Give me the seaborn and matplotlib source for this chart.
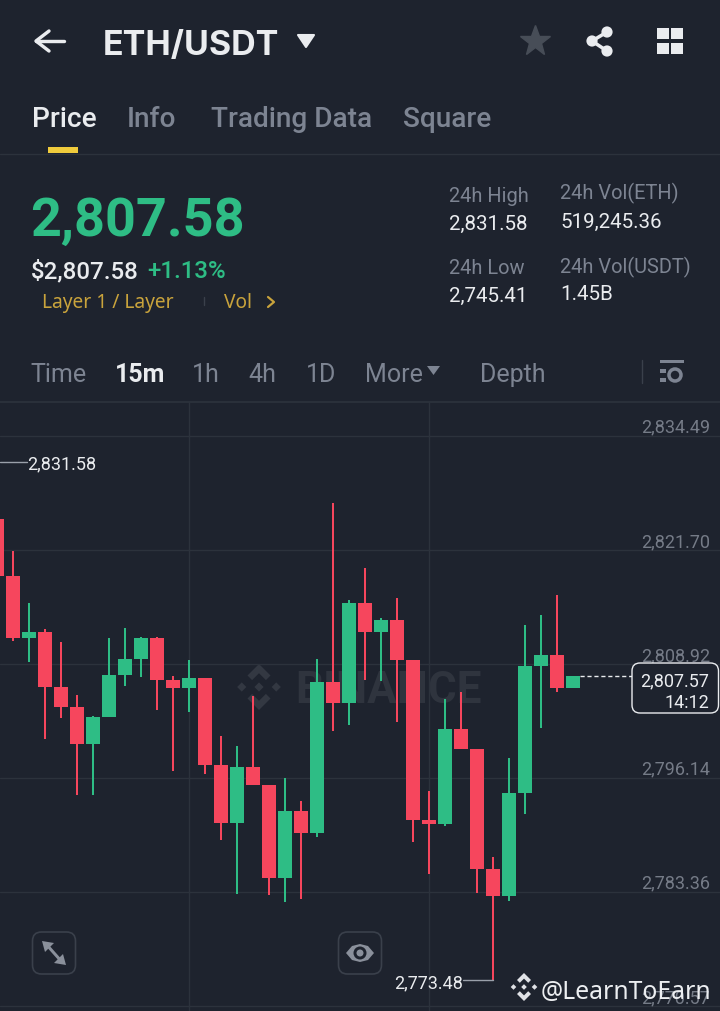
import matplotlib
matplotlib.use('Agg')
import matplotlib.pyplot as plt
from matplotlib.patches import Circle, FancyBboxPatch, Polygon, Rectangle
import numpy as np
import pandas as pd
import seaborn as sns

BG = '#1e232e'
GREEN = '#2ebd85'
RED = '#f6465d'
GRID = '#2c323c'
MUTED = '#7d8492'
WHITE = '#eaecef'
GOLD = '#c9a33c'

opens = [2825.16, 2818.77, 2811.82, 2812.53, 2806.33, 2804.03, 2799.94, 2802.93, 2807.64,
         2809.47, 2811.79, 2807.11, 2806.22, 2807.34, 2797.58, 2791.12, 2797.39, 2795.37,
         2784.86, 2792.37, 2789.93, 2806.89, 2804.50, 2815.75, 2812.53, 2813.84, 2809.32,
         2791.42, 2790.97, 2801.62, 2799.41, 2785.89, 2782.90, 2794.41, 2808.72, 2809.92,
         2806.18]
closes = [2818.77, 2811.82, 2812.53, 2806.33, 2804.03, 2799.94, 2802.93, 2807.64, 2809.47,
          2811.79, 2807.11, 2806.22, 2807.34, 2797.58, 2791.12, 2797.39, 2795.37, 2784.86,
          2792.37, 2789.93, 2806.89, 2804.50, 2815.75, 2812.53, 2813.84, 2809.32, 2791.42,
          2790.97, 2801.62, 2799.41, 2785.89, 2782.90, 2794.41, 2808.72, 2809.92, 2806.18,
          2807.57]
highs = [2825.16, 2821.61, 2815.75, 2812.83, 2811.41, 2805.43, 2803.11, 2811.86, 2812.94,
         2811.93, 2811.93, 2807.59, 2809.36, 2807.34, 2800.87, 2799.68, 2805.35, 2795.37,
         2796.13, 2793.51, 2809.47, 2826.96, 2816.08, 2819.64, 2814.06, 2816.27, 2809.32,
         2794.70, 2804.98, 2805.73, 2799.41, 2787.30, 2798.37, 2813.28, 2814.40, 2816.64,
         2807.57]
lows = [2818.77, 2811.52, 2809.16, 2800.50, 2802.85, 2794.22, 2794.22, 2802.93, 2806.47,
        2807.48, 2803.75, 2796.94, 2803.49, 2796.57, 2789.17, 2783.12, 2795.37, 2783.04,
        2782.19, 2782.56, 2789.51, 2801.43, 2802.07, 2807.15, 2807.03, 2802.44, 2788.92,
        2785.33, 2790.71, 2799.41, 2783.23, 2773.48, 2782.30, 2792.09, 2801.70, 2805.77,
        2806.18]
price_ticks = [2834.49, 2821.70, 2808.92, 2796.14, 2783.36, 2770.57]
time_grid = [12, 27]
last_price = 2807.57
day_high = 2831.58
day_low = 2773.48
low_candle = 31

sns.set_theme(style='dark', rc={'figure.facecolor': BG, 'axes.facecolor': BG})
plt.rcParams['font.family'] = ['Roboto', 'DejaVu Sans']


def to_px(size):
    return size * 0.72


def label(ax, x, y, s, size, color=WHITE, ha='left', weight='normal', family='Roboto', zorder=5):
    return ax.text(x, y, s, fontsize=to_px(size), color=color, ha=ha, va='baseline',
                   fontweight=weight, family=family, zorder=zorder)


def px_axes(fig, zorder):
    ax = fig.add_axes([0, 0, 1, 1], zorder=zorder)
    ax.set_xlim(0, 720)
    ax.set_ylim(1012, 0)
    ax.axis('off')
    ax.patch.set_alpha(0)
    return ax


def draw_logo(ax, cx, cy, r, color, zorder=1):
    shapes = [
        [(0, -1), (0.5, -0.5), (0.3, -0.3), (0, -0.6), (-0.3, -0.3), (-0.5, -0.5)],
        [(0, 1), (0.5, 0.5), (0.3, 0.3), (0, 0.6), (-0.3, 0.3), (-0.5, 0.5)],
        [(0, -0.2), (0.2, 0), (0, 0.2), (-0.2, 0)],
        [(-0.75, -0.2), (-0.55, 0), (-0.75, 0.2), (-0.95, 0)],
        [(0.75, -0.2), (0.95, 0), (0.75, 0.2), (0.55, 0)],
    ]
    for pts in shapes:
        ax.add_patch(Polygon([(cx + r * a, cy + r * b) for a, b in pts], closed=True,
                             fc=color, ec='none', zorder=zorder))


fig = plt.figure(figsize=(7.2, 10.12), dpi=100, facecolor=BG)
ui = px_axes(fig, 0)

# header
ui.plot([36, 64], [42, 42], color=WHITE, lw=to_px(3.4), solid_capstyle='round')
ui.plot([49, 36, 49], [32, 42, 52], color=WHITE, lw=to_px(3.4), solid_capstyle='round', solid_joinstyle='round')
label(ui, 103, 55, 'ETH/USDT', 34, weight='bold', family='Inter')
ui.add_patch(Polygon([(298, 36), (314, 36), (306, 48)], fc=WHITE, ec=WHITE, lw=1.5, joinstyle='round'))
ui.plot([535], [42], marker='*', ms=to_px(32), color='#474d57', mec='#474d57')
ui.plot([607, 592, 607], [33, 42, 52], color=WHITE, lw=to_px(3.5))
for cx, cy in [(607, 33), (592, 42), (607, 52)]:
    ui.add_patch(Circle((cx, cy), 5.6, fc=WHITE, ec='none'))
for x0 in (657, 671):
    for y0 in (29, 44):
        ui.add_patch(Rectangle((x0, y0), 12, 11, fc=WHITE, ec='none'))

# tabs
label(ui, 32, 127, 'Price', 28, weight='medium')
for x0, s in [(127, 'Info'), (211, 'Trading Data'), (403, 'Square')]:
    label(ui, x0, 127, s, 28, color=MUTED, weight='medium')
ui.add_patch(Rectangle((48, 148), 30, 6, fc='#f0cb3c', ec='none'))
ui.plot([0, 720], [155, 155], color=GRID, lw=1)

# price block
label(ui, 30, 236, '2,807.58', 54, color=GREEN, weight='bold')
label(ui, 31, 278, '$2,807.58', 24, weight='medium')
label(ui, 147, 278, '+1.13%', 24, color=GREEN, weight='medium')
label(ui, 42, 308, 'Layer 1 / Layer', 19.2, color=GOLD, family='Noto Sans')
ui.plot([204, 204], [298, 306], color='#3a404b', lw=1)
label(ui, 224, 308, 'Vol', 19.2, color=GOLD, family='Noto Sans')
ui.plot([268, 274, 268], [298, 303, 308], color=GOLD, lw=to_px(2.2))

for x0, y0, s in [(449, 202, '24h High'), (560, 199, '24h Vol(ETH)'), (449, 274, '24h Low'), (560, 273, '24h Vol(USDT)')]:
    label(ui, x0, y0, s, 20, color=MUTED)
for x0, y0, s in [(449, 230, '2,831.58'), (560, 228, '519,245.36'), (449, 302, '2,745.41'), (560, 300, '1.45B')]:
    label(ui, x0, y0, s, 20.5)

# interval row
for x0, s in [(30, 'Time'), (192, '1h'), (248, '4h'), (306, '1D'), (365, 'More'), (480, 'Depth')]:
    label(ui, x0, 382, s, 25, color=MUTED)
label(ui, 115, 382, '15m', 25, weight='bold')
ui.add_patch(Polygon([(427, 367), (440, 367), (433.5, 376)], fc=MUTED, ec='none'))
ui.plot([642, 642], [361, 384], color='#3a404b', lw=1)
ui.add_patch(Rectangle((660, 361), 24, 3, fc=MUTED, ec='none'))
for y0 in (370, 379):
    ui.add_patch(Rectangle((660, y0), 6, 4, fc=MUTED, ec='none'))
ui.add_patch(Circle((675, 376), 6, fc=BG, ec=MUTED, lw=to_px(3.5)))

# watermark under the candles
draw_logo(ui, 259, 688, 23, '#333842')
label(ui, 295, 703, 'BINANCE', 44, color='#2f343e', weight='bold')

# chart
chart = fig.add_axes([0, 0, 1, (1012 - 403) / 1012], zorder=1)
chart.patch.set_alpha(0)
candles = np.arange(len(opens))
direction = ['up' if c >= o else 'down' for o, c in zip(opens, closes)]
colors = {'up': GREEN, 'down': RED}
wicks = pd.DataFrame({
    'candle': np.tile(candles, 2),
    'price': lows + highs,
    'direction': direction * 2,
})
sns.lineplot(data=wicks, x='candle', y='price', hue='direction', units='candle',
             estimator=None, sort=False, palette=colors, lw=to_px(2.0),
             solid_capstyle='butt', legend=False, ax=chart, zorder=3)
# bars, not thick lines: agg drops a stroked line whose centre is off canvas (candle 0)
chart.bar(candles, np.abs(np.subtract(closes, opens)), bottom=np.minimum(opens, closes),
          width=14 / 16, color=[colors[d] for d in direction], linewidth=0, zorder=3)

# 1 candle = 16 px, candle 0 centred at x = -3
chart.set_xlim(3 / 16, 723 / 16)
chart.set_ylim(2770.00, 2838.28)
chart.set_xticks(time_grid)
chart.set_xticklabels([])
chart.set_xlabel('')
chart.set_ylabel('')
chart.yaxis.tick_right()
chart.set_yticks(price_ticks)
chart.set_yticklabels([f'{v:,.2f}' for v in price_ticks])
chart.tick_params(axis='both', length=0)
chart.tick_params(axis='y', pad=-7.2, labelcolor='#757b87', labelsize=to_px(18))
for tick in chart.get_yticklabels():
    tick.set_ha('right')
    tick.set_va('bottom')
    tick.set_family('Roboto')
chart.grid(True, color=GRID, lw=1)
chart.set_axisbelow(True)
for side in ('left', 'right', 'bottom'):
    chart.spines[side].set_visible(False)
chart.spines['top'].set_color(GRID)

chart.plot([len(opens) - 1 + 0.45, 40.2], [last_price, last_price], color=WHITE, lw=1, ls=(0, (3, 2)), zorder=3)
chart.plot([chart.get_xlim()[0], 1.9], [day_high, day_high], color='#9aa0aa', lw=1, zorder=3)
chart.plot([low_candle, low_candle - 1.87], [day_low, day_low], color='#9aa0aa', lw=1, zorder=3)

# things on top of the chart
top = px_axes(fig, 2)
label(top, 27, 469, f'{day_high:,.2f}', 18)
label(top, 463, 988, f'{day_low:,.2f}', 18, ha='right')
top.add_patch(FancyBboxPatch((632, 664), 86.5, 50, boxstyle='round,pad=0,rounding_size=8', fc=BG, ec=WHITE, lw=1))
label(top, 709, 686, f'{last_price:,.2f}', 18, ha='right')
label(top, 709, 708, '14:12', 18, ha='right')

for x0 in (32, 338):
    top.add_patch(FancyBboxPatch((x0 + 0.5, 933), 43, 42, boxstyle='round,pad=0,rounding_size=9', fc=BG, ec='#3a404b', lw=1.2))
top.plot([46, 62], [945, 963], color='#8a909b', lw=to_px(3))
top.add_patch(Polygon([(42, 942), (54, 944), (45, 953)], fc='#8a909b', ec='none'))
top.add_patch(Polygon([(66, 966), (54, 964), (63, 955)], fc='#8a909b', ec='none'))
top.add_patch(Polygon([(346, 954), (352, 947), (360, 945), (368, 947), (374, 954), (368, 961), (360, 963), (352, 961)], fc='#8a909b', ec='none'))
top.add_patch(Circle((360, 954), 6.5, fc=BG, ec='none'))
top.add_patch(Circle((360, 954), 3.5, fc='#8a909b', ec='none'))

draw_logo(top, 524, 988, 14, '#e0e2e6')
label(top, 541, 999, '@LearnToEarn', 24.8, color='#eceef1', family='Noto Sans')

fig.savefig('out.png', dpi=100, facecolor=BG)
